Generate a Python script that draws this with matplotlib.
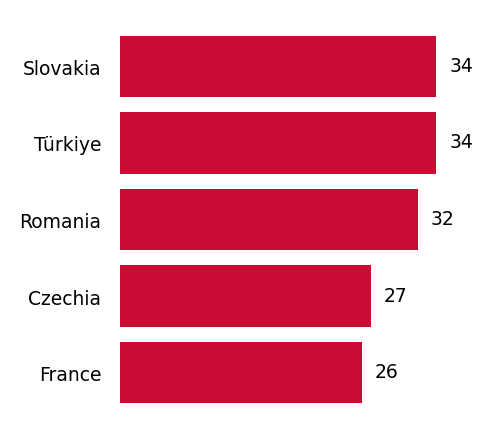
import matplotlib
matplotlib.use("Agg")
import matplotlib.pyplot as plt

countries = ["Slovakia", "Türkiye", "Romania", "Czechia", "France"]
values = [34, 34, 32, 27, 26]

fig = plt.figure(figsize=(4.9, 4.39), dpi=100)
ax = fig.add_axes([120/490, 27/439, 370/490, 383/439])
pos = list(range(len(countries)))
ax.barh(pos, values, height=0.8, color="#C90C33")
ax.set_ylim(len(countries) - 0.5, -0.5)
ax.set_xlim(0, 370/9.3)
ax.set_yticks(pos)
ax.set_yticklabels(countries, fontsize=13.5)
ax.tick_params(axis="y", length=0, pad=13.5)
ax.set_xticks([])
for s in ax.spines.values():
    s.set_visible(False)
for p, v in zip(pos, values):
    ax.annotate(str(v), (v, p), xytext=(13, 1), textcoords="offset pixels",
                va="center", ha="left", fontsize=13.5)
fig.savefig("out.png", dpi=100)
